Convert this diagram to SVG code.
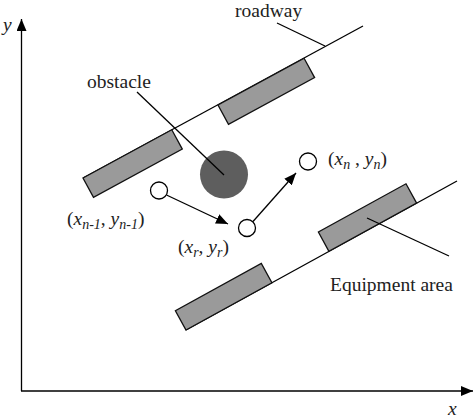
<svg xmlns="http://www.w3.org/2000/svg" width="474" height="419" viewBox="0 0 474 419">
<defs>
<style>
.ln{stroke:#000;stroke-width:1.3;fill:none}
.bar{fill:#9a9a9a;stroke:#111;stroke-width:1.3}
.pt{fill:#fff;stroke:#000;stroke-width:1.3}
.t{font-family:"Liberation Serif","Times New Roman",serif;font-size:19.5px;fill:#222}
.i{font-style:italic}
.s{font-size:14px;font-style:italic}
</style>
<marker id="ah" viewBox="0 0 12 10" refX="12" refY="5" markerWidth="12" markerHeight="10" markerUnits="userSpaceOnUse" orient="auto">
<path d="M0,0 L12,5 L0,10 Z" fill="#000"/>
</marker>
</defs>
<rect width="474" height="419" fill="#fff"/>
<g id="axes">
<line class="ln" x1="21.5" y1="391" x2="21.5" y2="19" marker-end="url(#ah)"/>
<line class="ln" x1="21" y1="391" x2="473" y2="391" marker-end="url(#ah)"/>
<text class="t i" x="3" y="31">y</text>
<text class="t i" x="448" y="415">x</text>
</g>
<g id="roadway">
<line class="ln" x1="83" y1="178" x2="363" y2="26"/>
<polygon class="bar" points="83,178 171.8,129.8 182.3,149.1 93.5,197.3"/>
<polygon class="bar" points="218,105 304.1,58.3 314.6,77.6 228.5,124.3"/>
<text class="t" x="235" y="17">roadway</text>
</g>
<g id="equipment">
<line class="ln" x1="186" y1="330" x2="457" y2="181"/>
<polygon class="bar" points="186,330 271.9,282.8 261.3,263.5 175.4,310.7"/>
<polygon class="bar" points="328.9,251.3 416.6,203.1 406,183.8 318.4,232"/>
<text class="t" x="330" y="291">Equipment area</text>
</g>
<g id="obstacle">
<circle cx="224" cy="174.5" r="24" fill="#5e5e5e"/>
<text class="t" x="87" y="88">obstacle</text>
</g>
<g id="p_prev">
<circle class="pt" cx="159" cy="190.5" r="8.5"/>
<text class="t" x="67" y="225">(<tspan class="i">x</tspan><tspan class="s" dy="4">n-1</tspan><tspan dy="-4">, </tspan><tspan class="i">y</tspan><tspan class="s" dy="4">n-1</tspan><tspan dy="-4">)</tspan></text>
</g>
<g id="p_r">
<circle class="pt" cx="247" cy="228" r="8.5"/>
<text class="t" x="178" y="253">(<tspan class="i">x</tspan><tspan class="s" dy="4">r</tspan><tspan dy="-4">, </tspan><tspan class="i">y</tspan><tspan class="s" dy="4">r</tspan><tspan dy="-4">)</tspan></text>
</g>
<g id="p_n">
<circle class="pt" cx="308" cy="161.5" r="8.5"/>
<text class="t" x="328" y="165">(<tspan class="i">x</tspan><tspan class="s" dy="4">n</tspan><tspan dy="-4"> , </tspan><tspan class="i">y</tspan><tspan class="s" dy="4">n</tspan><tspan dy="-4">)</tspan></text>
</g>
<g id="connectors">
<line class="ln" x1="277" y1="23" x2="325" y2="46"/>
<line class="ln" x1="137" y1="92" x2="224" y2="175"/>
<line class="ln" x1="367" y1="218" x2="449" y2="256"/>
<line class="ln" x1="166.5" y1="195" x2="228" y2="224" marker-end="url(#ah)"/>
<line class="ln" x1="253" y1="221.5" x2="296" y2="173" marker-end="url(#ah)"/>
</g>
</svg>
